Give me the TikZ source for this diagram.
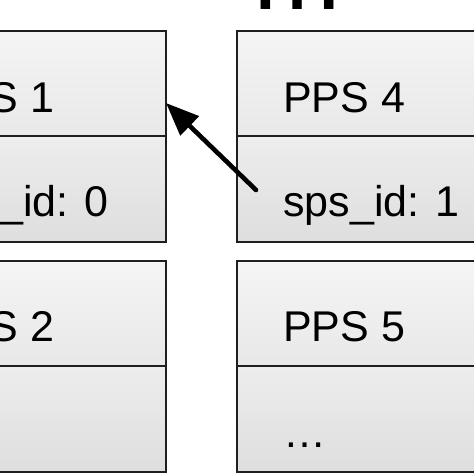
\documentclass[tikz,border=0pt]{standalone}
\usepackage{fontspec}
\setmainfont{Liberation Sans}
\usetikzlibrary{arrows.meta}
\begin{document}
\begin{tikzpicture}[x=1pt,y=1pt,
  cell/.style={draw=black!88, line width=1.5pt, minimum width=280pt, anchor=north west, inner sep=0pt, outer sep=0pt},
  uppercell/.style={cell, minimum height=105pt, top color=black!4, bottom color=black!9},
  lowercell/.style={cell, minimum height=106pt, top color=black!7, bottom color=black!13},
  lbl/.style={anchor=base west, inner sep=0pt, font=\fontsize{43}{50}\selectfont},
  bigdots/.style={anchor=base west, inner sep=0pt, font=\fontsize{100}{110}\selectfont},
  link/.style={line width=4.6pt, line cap=round, draw=black, -{Triangle[length=33pt,width=26pt]}}]
\useasboundingbox (0,0) rectangle (474,474);
\clip (0,0) rectangle (474,474);
% top ellipsis
\node[bigdots] (topdots) at (247.5,464) {…};
% left column
\node[uppercell] (c1) at (-114,443) {};
\node[lowercell] (c1b) at (c1.south west) {};
\node[uppercell] (c2) at (-114,213) {};
\node[lowercell] (c2b) at (c2.south west) {};
% right column
\node[uppercell] (c4) at (237,443) {};
\node[lowercell] (c4b) at (c4.south west) {};
\node[uppercell] (c5) at (237,213) {};
\node[lowercell] (c5b) at (c5.south west) {};
% labels
\node[lbl] (t1) at ([shift={(46,-82)}]c1.north west) {PPS 1};
\node[lbl] (t1b) at ([shift={(46,-81)}]c1b.north west) {sps\_id: 0};
\node[lbl] (t2) at ([shift={(46,-81)}]c2.north west) {PPS 2};
\node[lbl] (t4) at ([shift={(46,-82)}]c4.north west) {PPS 4};
\node[lbl] (t4b) at ([shift={(46,-81)}]c4b.north west) {sps\_id: 1};
\node[lbl] (t5) at ([shift={(46,-81)}]c5.north west) {PPS 5};
\node[lbl] (t5b) at ([shift={(46,-81)}]c5b.north west) {…};
% arrow
\coordinate (tail) at ([shift={(-27,27)}]t4b.base west);
\coordinate (tip) at ([yshift=-72]c1.north east);
\draw[link] (tail) -- (tip);
\end{tikzpicture}
\end{document}
